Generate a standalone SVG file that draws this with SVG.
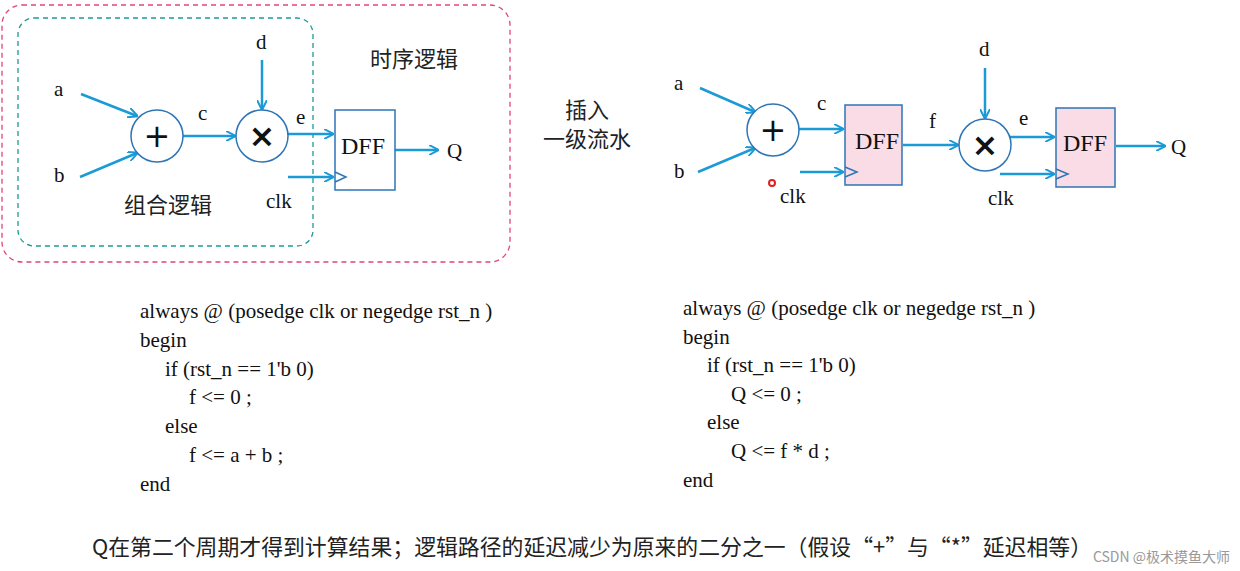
<svg xmlns="http://www.w3.org/2000/svg" width="1240" height="571" viewBox="0 0 1240 571">
<defs>
<marker id="ar" viewBox="0 0 10 10" refX="9" refY="5" markerWidth="10" markerHeight="10" markerUnits="userSpaceOnUse" orient="auto"><path d="M0,0 L10,5 L0,10" fill="none" stroke="#1a9ad6" stroke-width="2"/></marker>
<style>
.w{stroke:#1a9ad6;stroke-width:2.5;fill:none;marker-end:url(#ar)}
.op{fill:#fff;stroke:#2e75b6;stroke-width:1.5}
.ff{stroke:#2e75b6;stroke-width:1.5}
.t{font-family:"Liberation Serif",serif;font-size:21px;fill:#111}
.dff{font-family:"Liberation Serif",serif;font-size:24px;fill:#111}
.code{font-family:"Liberation Serif",serif;font-size:21px;fill:#111;white-space:pre}
.cn{font-family:"Noto Sans CJK SC",sans-serif;font-size:22px;fill:#222}
.sym{font-family:"DejaVu Sans",sans-serif;font-size:32px;fill:#111;text-anchor:middle}
</style>
</defs>
<rect width="1240" height="571" fill="#fff"/>
<rect x="2" y="5" width="508" height="257" rx="20" fill="none" stroke="#e0457b" stroke-width="1.3" stroke-dasharray="5,4"/>
<rect x="18" y="18" width="295" height="228" rx="16" fill="none" stroke="#1c9a9a" stroke-width="1.3" stroke-dasharray="5,4"/>
<g id="connectors">
<line class="w" x1="81" y1="94" x2="137" y2="116"/>
<line class="w" x1="80" y1="177" x2="137" y2="153"/>
<line class="w" x1="183" y1="136" x2="235" y2="136"/>
<line class="w" x1="262" y1="60" x2="262" y2="109"/>
<line class="w" x1="288" y1="134" x2="333" y2="134"/>
<line class="w" x1="288" y1="177" x2="333" y2="177"/>
<line class="w" x1="395" y1="150" x2="438" y2="150"/>
<line class="w" x1="700" y1="88" x2="755" y2="112"/>
<line class="w" x1="698" y1="172" x2="755" y2="148"/>
<line class="w" x1="799" y1="129" x2="843" y2="129"/>
<line class="w" x1="800" y1="172" x2="843" y2="172"/>
<line class="w" x1="903" y1="145" x2="958" y2="145"/>
<line class="w" x1="985" y1="68" x2="985" y2="118"/>
<line class="w" x1="1010" y1="137" x2="1054" y2="137"/>
<line class="w" x1="1000" y1="174" x2="1054" y2="174"/>
<line class="w" x1="1116" y1="146" x2="1165" y2="146"/>
</g>
<g id="add1"><circle class="op" cx="157" cy="136" r="26"/><text class="sym" x="157" y="147">+</text></g>
<g id="mul1"><circle class="op" cx="262" cy="136" r="26"/><text class="sym" x="262" y="147" font-weight="bold">×</text></g>
<g id="dff1"><rect class="ff" x="335" y="110" width="60" height="80" fill="#fff"/><path class="ff" d="M335,172 L346,177 L335,182" fill="none"/><text class="dff" x="341" y="154">DFF</text></g>
<g id="add2"><circle class="op" cx="773" cy="130" r="26"/><text class="sym" x="773" y="141">+</text></g>
<g id="dff2"><rect class="ff" x="845" y="105" width="57" height="80" fill="#fadce6"/><path class="ff" d="M845,167 L857,172 L845,177" fill="none"/><text class="dff" x="855" y="149">DFF</text></g>
<g id="mul2"><circle class="op" cx="985" cy="145" r="26"/><text class="sym" x="985" y="156" font-weight="bold">×</text></g>
<g id="dff3"><rect class="ff" x="1056" y="108" width="59" height="79" fill="#fadce6"/><path class="ff" d="M1056,169 L1068,174 L1056,179" fill="none"/><text class="dff" x="1063" y="151">DFF</text></g>
<g id="labels">
<text class="t" x="54" y="96">a</text><text class="t" x="54" y="182">b</text>
<text class="t" x="198" y="120">c</text><text class="t" x="256" y="49">d</text>
<text class="t" x="296" y="124">e</text><text class="t" x="447" y="158">Q</text>
<text class="t" x="266" y="208">clk</text>
<text class="cn" x="124" y="213">组合逻辑</text>
<text class="cn" x="370" y="67">时序逻辑</text>
<text class="cn" x="587" y="118" text-anchor="middle">插入</text>
<text class="cn" x="587" y="147" text-anchor="middle">一级流水</text>
<text class="t" x="674" y="90">a</text><text class="t" x="674" y="178">b</text>
<text class="t" x="817" y="110">c</text><text class="t" x="929" y="128">f</text>
<text class="t" x="979" y="56">d</text><text class="t" x="1019" y="125">e</text>
<text class="t" x="1171" y="154">Q</text>
<text class="t" x="780" y="203">clk</text><text class="t" x="988" y="205">clk</text>
<circle cx="772" cy="183" r="3" fill="none" stroke="#e02020" stroke-width="2"/>
</g>
<g id="code1" class="code" xml:space="preserve">
<text x="140" y="318">always  @ (posedge clk  or  negedge rst_n )</text>
<text x="140" y="347">begin</text>
<text x="165" y="376">if (rst_n == 1'b 0)</text>
<text x="189" y="404">f &lt;= 0 ;</text>
<text x="165" y="433">else</text>
<text x="189" y="462">f  &lt;= a + b ;</text>
<text x="140" y="491">end</text>
</g>
<g id="code2" class="code" xml:space="preserve">
<text x="683" y="315">always  @ (posedge clk  or  negedge rst_n )</text>
<text x="683" y="344">begin</text>
<text x="707" y="372">if (rst_n == 1'b 0)</text>
<text x="731" y="401">Q  &lt;= 0 ;</text>
<text x="707" y="429">else</text>
<text x="731" y="458">Q  &lt;= f * d   ;</text>
<text x="683" y="487">end</text>
</g>
<text class="cn" x="92" y="555" textLength="1000" lengthAdjust="spacingAndGlyphs">Q在第二个周期才得到计算结果；逻辑路径的延迟减少为原来的二分之一（假设“+”与“*”延迟相等）</text>
<text x="1230" y="562" text-anchor="end" font-family="Noto Sans CJK SC,sans-serif" font-size="14" fill="#999">CSDN @极术摸鱼大师</text>
</svg>
